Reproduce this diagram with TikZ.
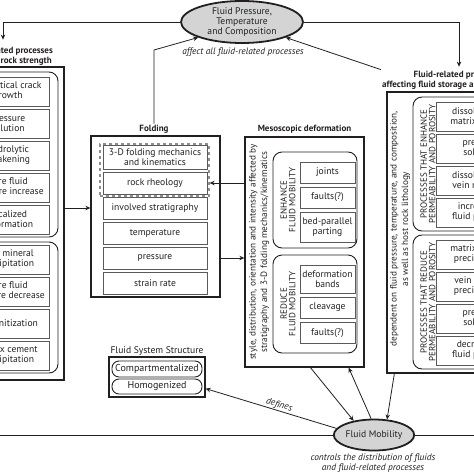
\documentclass[tikz,border=0pt]{standalone}
\usepackage{fontspec}
\setmainfont{PT Sans}
\usetikzlibrary{arrows.meta, positioning, shapes.geometric, calc}
\definecolor{ink}{HTML}{231F20}
\definecolor{boxgray}{HTML}{5A5A5A}
\definecolor{ovalgray}{HTML}{D4D4D4}
\definecolor{dashgray}{HTML}{8E8E8E}

\begin{document}
\begin{tikzpicture}[x=1pt, y=-1pt, every node/.style={text=ink},
  frame/.style={rectangle, draw=ink, line width=1.3pt},
  group/.style={rectangle, draw=ink, line width=0.9pt, rounded corners=9pt},
  item/.style={rectangle, draw=boxgray, line width=0.8pt, align=center, inner sep=1pt, font=\fontsize{9.6}{10}\selectfont},
  pill/.style={rectangle, draw=ink, line width=0.9pt, rounded corners=7pt, align=center, inner sep=1pt, font=\fontsize{10}{10}\selectfont},
  head/.style={font=\bfseries\fontsize{9}{10}\selectfont, align=center, inner sep=1pt},
  note/.style={font=\itshape\fontsize{9.4}{10.5}\selectfont, align=center, inner sep=1pt},
  side/.style={rotate=90, align=center, inner sep=1pt, font=\fontsize{9.2}{11.5}\selectfont},
  caps/.style={rotate=90, align=center, inner sep=1pt, font=\fontsize{9}{8.4}\selectfont},
  oval/.style={ellipse, draw=ink, line width=1.8pt, fill=ovalgray, inner sep=0pt, align=center, font=\fontsize{9.6}{10}\selectfont},
  link/.style={-{Stealth[length=5pt, width=4.5pt]}, draw=ink, line width=0.8pt},
]
\useasboundingbox (0,0) rectangle (474,474);
\clip (0,0) rectangle (474,474);

% top and bottom ovals
\node[oval, minimum width=122, minimum height=42] (fpt) at (242,22) {Fluid Pressure,\\Temperature\\and Composition};
\node[note] (fptnote) at (243,52) {affect all fluid-related processes};
\node[oval, minimum width=78, minimum height=31] (fmob) at (374,435) {Fluid Mobility};
\node[note] (fmobnote) at (373,463) {controls the distribution of fluids\\and fluid-related processes};

% left column
\node[head, anchor=east] (ltitle) at (54,56) {Fluid-related processes\\affecting rock strength};
\node[frame, minimum width=200, minimum height=313] (lbox) at (-36,223.5) {};
\node[group, minimum width=188, minimum height=165] (lgrp1) at (-36,154.5) {};
\node[group, minimum width=188, minimum height=131] (lgrp2) at (-36,307.5) {};
\node[item, minimum width=82, minimum height=29] (l1) at (8,91.5) {Subcritical crack\\growth};
\node[item, minimum width=82, minimum height=29] (l2) at (8,123.5) {Pressure\\solution};
\node[item, minimum width=82, minimum height=29] (l3) at (8,155.5) {Hydrolytic\\weakening};
\node[item, minimum width=82, minimum height=29] (l4) at (8,187.5) {Pore fluid\\pressure increase};
\node[item, minimum width=82, minimum height=29] (l5) at (8,219.5) {Localized\\deformation};
\node[item, minimum width=82, minimum height=29] (l6) at (8,259.5) {Vein mineral\\precipitation};
\node[item, minimum width=82, minimum height=29] (l7) at (8,291.5) {Pore fluid\\pressure decrease};
\node[item, minimum width=82, minimum height=29] (l8) at (8,323.5) {Kaolinitization};
\node[item, minimum width=82, minimum height=29] (l9) at (8,355.5) {Matrix cement\\precipitation};

% folding
\node[head] (foldttl) at (154,129) {Folding};
\node[frame, minimum width=129, minimum height=161] (fold) at (155.5,216.5) {};
\node[rectangle, draw=dashgray, dashed, line width=1.2pt, minimum width=109, minimum height=52] (fdash) at (154.5,170) {};
\node[item, minimum width=104, minimum height=24] (f1) at (155,157) {3-D folding mechanics\\and kinematics};
\node[item, minimum width=104, minimum height=22] (f2) at (155,183) {rock rheology};
\node[item, minimum width=104, minimum height=22] (f3) at (155,208) {involved stratigraphy};
\node[item, minimum width=104, minimum height=22] (f4) at (155,233) {temperature};
\node[item, minimum width=104, minimum height=22] (f5) at (155,258) {pressure};
\node[item, minimum width=104, minimum height=22] (f6) at (155,283) {strain rate};

% mesoscopic deformation
\node[head] (mesottl) at (304.5,129) {Mesoscopic deformation};
\node[frame, minimum width=119, minimum height=230] (meso) at (304.5,252) {};
\node[side] (mesotxt) at (259,252) {style, distribution, orientation and intensity affected by\\stratigraphy and 3-D folding mechanics/kinematics};
\node[group, minimum width=84, minimum height=96] (mgrp1) at (315,200) {};
\node[group, minimum width=84, minimum height=98] (mgrp2) at (315,304) {};
\node[caps] (mlab1) at (288,200) {ENHANCE\\FLUID MOBILITY};
\node[caps] (mlab2) at (288,304) {REDUCE\\FLUID MOBILITY};
\node[item, minimum width=55, minimum height=21] (m1) at (327.5,172.5) {joints};
\node[item, minimum width=55, minimum height=21] (m2) at (327.5,197.5) {faults(?)};
\node[item, minimum width=55, minimum height=30] (m3) at (327.5,227) {bed-parallel\\parting};
\node[item, minimum width=55, minimum height=28] (m4) at (327.5,279) {deformation\\bands};
\node[item, minimum width=55, minimum height=21] (m5) at (327.5,307.5) {cleavage};
\node[item, minimum width=55, minimum height=21] (m6) at (327.5,333) {faults(?)};

% right column
\node[head, anchor=west] (rtitle) at (381,80) {Fluid-related processes\\affecting fluid storage and transmission};
\node[frame, minimum width=200, minimum height=281] (rbox) at (487,232.5) {};
\node[side] (rtxt) at (400,229) {dependent on fluid pressure, temperature, and composition,\\as well as host rock lithology};
\node[group, minimum width=170, minimum height=134] (rgrp1) at (498,164) {};
\node[group, minimum width=170, minimum height=134] (rgrp2) at (498,302) {};
\node[caps] (rlab1) at (428,164) {PROCESSES THAT ENHANCE\\PERMEABILITY AND POROSITY};
\node[caps] (rlab2) at (428,302) {PROCESSES THAT REDUCE\\PERMEABILITY AND POROSITY};
\node[item, minimum width=88, minimum height=29] (r1) at (480,116.5) {dissolution of\\matrix cement};
\node[item, minimum width=88, minimum height=29] (r2) at (480,148.5) {pressure\\solution};
\node[item, minimum width=88, minimum height=29] (r3) at (480,180.5) {dissolution of\\vein minerals};
\node[item, minimum width=88, minimum height=29] (r4) at (480,212.5) {increase in\\fluid pressure};
\node[item, minimum width=88, minimum height=29] (r5) at (480,254.5) {matrix cement\\precipitation};
\node[item, minimum width=88, minimum height=29] (r6) at (480,286.5) {vein mineral\\precipitation};
\node[item, minimum width=88, minimum height=29] (r7) at (480,318.5) {pressure\\solution};
\node[item, minimum width=88, minimum height=29] (r8) at (480,350.5) {decrease in\\fluid pressure};

% fluid system structure
\node[font=\fontsize{9.6}{10}\selectfont, inner sep=1pt] (fssttl) at (157,351) {Fluid System Structure};
\node[frame, line width=1.2pt, minimum width=96, minimum height=40] (fss) at (157,377) {};
\node[pill, minimum width=90, minimum height=16] (comp) at (157,369) {Compartmentalized};
\node[pill, minimum width=90, minimum height=15] (homo) at (157,386.5) {Homogenized};

% connectors
\coordinate (lcorner) at (3,22);
\coordinate (rcorner) at (459,22);
\coordinate (fbend) at (154,50);
\coordinate (bleft) at (-10,435);
\coordinate (bright) at (490,435);
\draw[link, shorten >=6pt] (fpt.west) -- (lcorner) -- (lcorner |- ltitle.north);
\draw[link, shorten >=3pt] (fpt.east) -- (rcorner) -- (rcorner |- rtitle.north);
\draw[link] (foldttl.north) -- (fbend) -- (fpt.south west);
\draw[link] (rtitle.north west) -- (fpt.south east);
\draw[link] (lbox.east |- f3) -- (fold.west |- f3);
\draw[link] (meso.west |- f2) -- (fdash.east |- f2);
\draw[link] (fold.east |- f5) -- (meso.west |- f5);
\draw[line width=0.8pt, draw=ink] (bleft) -- (fmob.west);
\draw[line width=0.8pt, draw=ink] (fmob.east) -- (bright);
\draw[link] ($(meso.south)+(6,0)$) -- (fmob.145);
\draw[link] (fmob.100) -- ($(meso.south east)+(-16,0)$);
\draw[link] ($(rbox.south west)+(8,0)$) -- (fmob.50);
\draw[link] (fmob.170) -- node[note, sloped, above, pos=0.45] {defines} ($(fss.south east)+(0,-9)$);
\end{tikzpicture}
\end{document}
